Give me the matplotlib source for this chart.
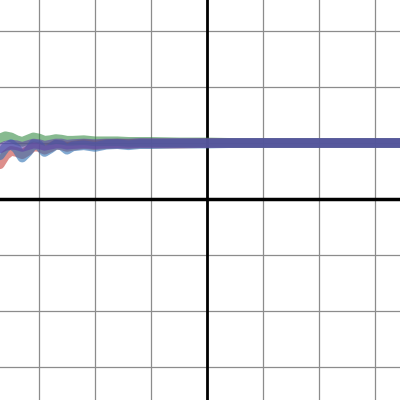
import matplotlib
matplotlib.use("Agg")
import matplotlib.pyplot as plt

# sample x positions (graph units) and the four curves
x = [-3.7, -3.6, -3.5, -3.4, -3.3, -3.2, -3.1, -3.0, -2.9, -2.8, -2.7, -2.6, -2.5,
     -2.4, -2.2, -2.0, -1.8, -1.6, -1.4, -1.2, -1.0, -0.5, 0.0, 0.5, 1.0, 1.5, 2.0, 2.5, 3.0, 3.5]
red = [0.62, 0.78, 0.86, 0.84, 0.80, 0.86, 0.94, 0.93, 0.88, 0.92, 0.97, 0.96, 0.93,
       0.95, 0.98, 0.96, 0.98, 0.99, 0.98, 0.99, 0.99, 0.99, 1.0, 1.0, 1.0, 1.0, 1.0, 1.0, 1.0, 1.0]
green = [1.08, 1.12, 1.10, 1.05, 1.02, 1.06, 1.10, 1.08, 1.04, 1.05, 1.07, 1.06, 1.04,
         1.04, 1.05, 1.03, 1.03, 1.03, 1.02, 1.02, 1.02, 1.01, 1.01, 1.0, 1.0, 1.0, 1.0, 1.0, 1.0, 1.0]
blue = [0.78, 0.92, 0.98, 0.90, 0.74, 0.84, 0.98, 0.96, 0.84, 0.90, 0.97, 0.96, 0.88,
        0.94, 0.96, 0.93, 0.97, 0.98, 0.96, 0.98, 0.98, 0.99, 0.99, 1.0, 1.0, 1.0, 1.0, 1.0, 1.0, 1.0]
purple = [0.90, 0.95, 0.97, 0.96, 0.93, 0.96, 0.99, 0.98, 0.95, 0.97, 0.99, 0.99, 0.97,
          0.98, 0.99, 0.98, 0.99, 0.99, 0.99, 1.0, 1.0, 1.0, 1.0, 1.0, 1.0, 1.0, 1.0, 1.0, 1.0, 1.0]

series = [(red, "#c74440"), (green, "#388c46"), (blue, "#2d70b3"), (purple, "#6042a6")]

fig = plt.figure(figsize=(4, 4), dpi=100)
ax = fig.add_axes([0, 0, 1, 1])
ax.set_xlim(-207 / 56, 193 / 56)
ax.set_ylim(-201 / 56, 199 / 56)

for k in range(-3, 4):
    ax.axvline(k, color="#8c8c8c", lw=0.9, zorder=0)
    ax.axhline(k, color="#8c8c8c", lw=0.9, zorder=0)
ax.axvline(0, color="black", lw=2, zorder=1)
ax.axhline(0, color="black", lw=2.5, zorder=1)

for ys, c in series:
    ax.plot(x, ys, color=c, lw=7, alpha=0.6, solid_capstyle="round", zorder=2)

ax.axis("off")
fig.savefig("out.png", dpi=100)
